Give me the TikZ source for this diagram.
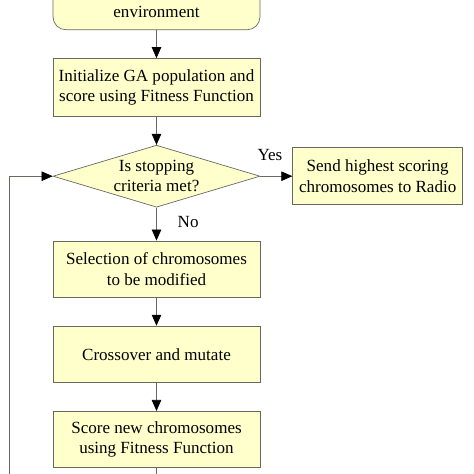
\documentclass[tikz,border=0pt]{standalone}
\usepackage{fontspec}
\setmainfont{Liberation Serif}
\usetikzlibrary{calc, positioning, arrows.meta, shapes.geometric}
\definecolor{boxfill}{RGB}{255, 255, 204}
\definecolor{edgegray}{RGB}{105, 105, 100}
\tikzset{
  flow/.style={-{Triangle[length=2.2mm, width=1.9mm, color=black]}, draw=edgegray, fill=none},
  flowlabel/.style={font=\fontsize{9.7}{11.5}\selectfont}
}

\begin{document}
\begin{tikzpicture}[
    font=\fontsize{9.7}{11.5}\selectfont,
    stepbox/.style={
        draw=edgegray, fill=boxfill, align=center,
        minimum width=4.14cm, minimum height=1.13cm, inner sep=2pt
      },
    decision/.style={
        diamond, draw=edgegray, fill=boxfill, align=center, aspect=3.3,
        minimum width=4.14cm, minimum height=1.24cm, inner sep=0pt
      },
    node distance=0.56cm
  ]
  \useasboundingbox (-3.13,1.75) rectangle ++(9.48,-9.48);

  \node[stepbox, minimum height=1.16cm] (init) at (0,0) {Initialize GA population and\\score using Fitness Function};
  \node[stepbox, rounded corners=0.26cm, above=of init, inner sep=0pt,
    text height=0.94cm, text depth=0.24cm] (env) {environment};
  \node[decision, below=of init] (check) {Is stopping\\criteria met?};
  \node[stepbox, below=0.66cm of check] (select) {Selection of chromosomes\\to be modified};
  \node[stepbox, below=of select] (cross) {Crossover and mutate};
  \node[stepbox, below=of cross] (score) {Score new chromosomes\\using Fitness Function};
  \node[stepbox, right=0.64cm of check, minimum width=3.4cm, minimum height=1.14cm] (send)
  {Send highest scoring\\chromosomes to Radio};

  % main flow
  \draw[flow] (env) -- (init);
  \draw[flow] (init) -- (check);
  \draw[flow] (check) -- node[flowlabel, right=0.3cm, pos=0.45] (no) {No} (select);
  \draw[flow] (select) -- (cross);
  \draw[flow] (cross) -- (score);
  \draw[flow] (check) -- node[flowlabel, above=0.18cm, pos=0.3] (yes) {Yes} (send);

  % loop back
  \coordinate (back) at ($(score.south)+(0,-0.3)$);
  \coordinate (side) at ($(check.west)+(-0.86,0)$);
  \draw[flow] (score.south) -- (back) -| (side) -- (check.west);
\end{tikzpicture}
\end{document}
